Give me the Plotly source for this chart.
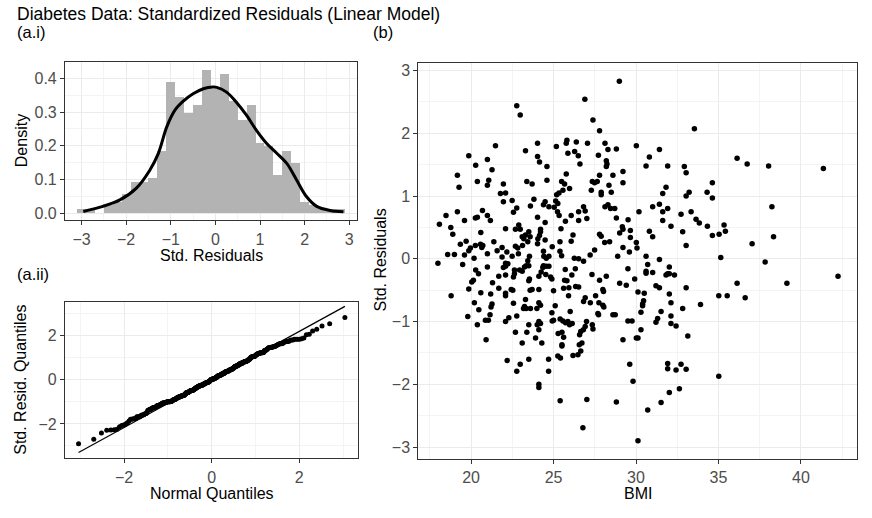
import statistics
import plotly.graph_objects as go

# Panel (a.i): histogram of standardized residuals (density scale)
hist_bins = [-3.0, -2.8, -2.6, -2.4, -2.2, -2.0, -1.8, -1.6, -1.4, -1.2,
             -1.0, -0.8, -0.6, -0.4, -0.2, 0.0, 0.2, 0.4, 0.6, 0.8,
             1.0, 1.2, 1.4, 1.6, 1.8, 2.0, 2.2, 2.4, 2.6, 2.8]
hist_density = [0.011, 0.011, 0.0, 0.023, 0.034, 0.057, 0.091, 0.091, 0.103, 0.183,
                0.389, 0.343, 0.297, 0.320, 0.423, 0.366, 0.411, 0.331, 0.274, 0.320,
                0.206, 0.200, 0.114, 0.183, 0.149, 0.034, 0.023, 0.011, 0.011, 0.011]

# kernel density curve
kde_x = [-2.96, -2.52, -2.14, -1.77, -1.47, -1.28, -1.09, -0.91, -0.72, -0.50,
         -0.27, -0.05, 0.03, 0.25, 0.47, 0.70, 0.92, 1.15, 1.37, 1.60,
         1.82, 2.04, 2.27, 2.57, 2.87]
kde_y = [0.006, 0.021, 0.040, 0.075, 0.128, 0.177, 0.256, 0.305, 0.332, 0.354,
         0.369, 0.374, 0.373, 0.359, 0.329, 0.290, 0.246, 0.207, 0.179, 0.148,
         0.099, 0.050, 0.021, 0.009, 0.005]

# Panel (b): BMI against standardized residuals
bmi = [
    28.99, 22.77, 22.98, 26.90, 27.39, 27.79, 21.48, 19.86, 20.99, 20.28, 21.27, 19.17, 19.27, 20.38,
    21.07, 20.99, 18.08, 18.48, 18.77, 18.89, 19.17, 19.60, 18.58, 18.99, 17.99, 19.35, 19.70, 19.60,
    19.96, 19.86, 20.26, 20.26, 20.38, 20.69, 20.99, 21.17, 20.59, 20.57, 20.71, 20.65, 20.18, 20.99,
    21.38, 21.58, 21.78, 22.09, 21.96, 21.96, 22.49, 22.57, 22.77, 22.09, 21.88, 22.17, 21.88, 22.49,
    22.69, 22.83, 22.09, 22.69, 22.89, 22.98, 23.10, 23.20, 23.30, 22.87, 23.12, 23.30, 23.38, 23.70,
    23.81, 23.60, 23.50, 23.58, 23.44, 23.54, 23.44, 24.03, 24.03, 24.15, 24.60, 24.60, 24.03, 24.49,
    24.39, 24.72, 24.15, 24.05, 24.21, 24.49, 24.49, 24.21, 24.39, 24.41, 24.56, 24.72, 24.92, 25.17,
    25.81, 25.77, 26.38, 25.87, 26.28, 26.50, 26.60, 25.77, 25.49, 25.67, 25.97, 25.19, 25.33, 25.57,
    25.13, 25.26, 25.04, 25.24, 25.34, 25.45, 25.72, 25.39, 25.39, 25.49, 26.07, 26.18, 26.07, 26.26,
    26.52, 26.52, 26.52, 26.82, 26.82, 26.92, 27.02, 27.06, 27.22, 27.72, 27.79, 27.35, 27.49, 27.65,
    27.29, 27.89, 27.89, 28.12, 28.30, 28.81, 28.20, 28.24, 28.20, 28.60, 28.36, 28.50, 28.12, 28.30,
    28.46, 28.71, 28.81, 27.79, 27.89, 28.10, 28.40, 28.89, 29.21, 29.21, 29.52, 29.17, 29.21, 29.01,
    29.66, 29.66, 29.21, 29.60, 30.02, 30.02, 30.06, 30.18, 27.49, 24.03,
    33.54, 30.61, 30.81, 31.42, 31.92, 32.93, 33.04, 36.13, 36.74, 38.04, 41.36, 34.63, 34.31, 34.63,
    31.82, 31.62, 33.04, 33.22, 31.01, 31.42, 31.62, 31.92, 31.62, 32.12, 30.81, 31.01, 32.73, 33.34,
    33.64, 33.84, 32.83, 33.04, 34.33, 34.63, 35.04, 35.34, 35.42, 35.14, 37.04, 38.24, 38.34, 37.83,
    30.61, 31.42,
    19.49, 20.99, 20.28, 20.45, 20.14, 20.04, 19.86, 18.79, 20.59, 21.19, 21.30, 21.68, 21.68, 22.09,
    22.09, 21.96, 22.23, 22.09, 22.09, 22.43, 22.53, 22.57, 22.63, 22.63, 22.94, 23.10, 23.24, 23.34,
    23.50, 23.54, 23.50, 23.58, 23.70, 24.11, 24.11, 24.25, 24.35, 24.39, 24.56, 24.72, 24.53, 24.82,
    24.90, 25.00, 25.71, 25.67, 25.81, 25.61, 25.93, 25.91, 26.11, 26.32, 26.34, 26.52, 27.33, 27.79,
    28.20, 27.99, 28.03, 29.51, 29.92, 29.01, 29.41, 30.12, 20.20, 20.47, 19.80, 20.38, 20.91, 20.87,
    21.05, 21.15, 21.21, 21.27, 22.09, 22.29, 22.57, 22.77, 22.69, 23.10, 23.30, 23.24, 23.18, 23.34,
    23.60, 23.50, 23.38, 23.91, 23.99, 24.11, 24.21, 24.01, 24.11, 24.11, 24.21, 24.29, 24.90, 24.92,
    25.00, 25.10, 25.28, 25.40, 25.57, 25.51, 25.61, 25.26, 25.42, 25.51, 25.51, 25.73, 25.87, 25.97,
    26.13, 26.01, 26.18, 26.48, 26.65, 26.56, 26.72, 26.58, 26.65, 26.81, 26.92, 27.00, 26.82, 26.92,
    27.23, 27.35, 27.39, 27.55, 27.69, 27.73, 27.75, 27.99, 28.05, 28.60, 28.74, 29.21, 29.51, 29.76,
    29.62, 29.82, 30.02, 30.12, 22.19, 22.77, 22.98, 23.50, 24.11, 24.11, 24.70, 24.70, 25.40, 27.02,
    28.81, 26.78, 30.12,
    30.71, 30.61, 30.61, 31.01, 32.02, 31.82, 31.92, 32.02, 32.33, 31.21, 31.42, 33.04, 30.50, 32.02,
    30.46, 30.40, 30.40, 30.30, 31.52, 32.12, 32.83, 33.91, 35.02, 35.53, 36.13, 36.62, 39.15, 42.25,
    31.31, 31.21, 32.12, 32.12, 32.43, 30.30, 33.14, 31.92, 31.92, 32.43, 32.73, 33.04, 35.02, 32.02,
    32.63, 31.52, 30.71,
]
std_resid = [
    2.83, 2.44, 2.29, 2.54, 2.21, 2.04, 1.80, 1.64, 1.58, 1.49, 1.42, 1.33, 1.14, 1.23,
    1.25, 1.17, 0.55, 0.69, 0.50, 0.39, 0.75, 0.61, 0.07, 0.07, -0.07, 0.23, 0.28, 0.06,
    0.17, 0.13, 0.21, 0.65, 0.66, 0.77, 0.69, 0.61, 0.42, 0.23, 0.21, 0.18, 0.01, 0.08,
    0.27, 0.13, 1.04, 1.05, 1.19, 0.91, 0.93, 0.74, 0.81, 0.48, 0.18, 0.11, 0.03, 0.04,
    0.20, 0.17, -0.07, 0.47, 0.54, 0.47, 0.35, 0.32, 0.38, 0.08, 0.21, 1.72, 1.23, 1.19,
    0.95, 0.84, 0.43, 0.35, 0.27, 0.04, -0.03, 1.84, 1.63, 1.54, 1.47, 1.25, 0.66, 0.91,
    0.86, 0.83, 0.37, 0.32, 0.43, 0.30, 0.58, 0.47, 0.12, 0.04, 0.01, 0.04, 0.19, 1.79,
    1.89, 1.84, 1.86, 1.68, 1.71, 1.64, 1.51, 1.35, 1.23, 1.19, 1.12, 1.02, 1.05, 1.09,
    0.92, 0.88, 0.82, 0.75, 0.69, 0.48, 0.60, 0.27, 0.12, 0.05, 0.69, 0.38, 0.28, 0.01,
    0.00, 0.75, 0.61, -0.04, 0.83, 0.76, 0.64, 1.84, 0.06, 1.65, 1.33, 1.23, 1.21, 1.23,
    1.09, 1.06, 1.02, 1.84, 1.74, 1.75, 1.56, 1.51, 1.47, 1.33, 1.17, 1.06, 0.83, 0.86,
    0.80, 0.80, 0.65, 0.39, 0.36, 0.26, 0.27, 0.04, 1.39, 1.21, 0.62, 0.51, 0.47, 0.41,
    0.45, 0.34, 0.18, 0.11, 1.80, 0.26, 0.17, 0.75, 0.14, 0.24,
    2.07, 1.48, 1.62, 1.74, 1.48, 1.47, 1.37, 1.60, 1.51, 1.48, 1.44, 1.21, 1.06, 0.97,
    1.14, 1.04, 1.00, 1.06, 0.83, 0.87, 0.75, 0.80, 0.61, 0.52, 0.44, 0.35, 0.71, 0.75,
    0.63, 0.57, 0.43, 0.21, 0.52, 0.37, 0.39, 0.54, 0.44, 0.02, 0.24, 0.83, 0.35, -0.05,
    0.04, -0.01,
    -0.09, -0.13, -0.18, -0.24, -0.34, -0.37, -0.48, -0.59, -0.54, -0.56, -0.38, -0.28, -0.47, -0.26,
    -0.12, -0.14, -0.08, -0.59, -0.55, -0.49, -0.50, -0.29, -0.18, -0.24, -0.18, -0.20, -0.13, -0.11,
    -0.11, -0.32, -0.35, -0.50, -0.49, -0.28, -0.49, -0.21, -0.14, -0.11, -0.12, -0.12, -0.25, -0.29,
    -0.32, -0.51, -0.17, -0.34, -0.35, -0.47, -0.46, -0.59, -0.26, -0.16, -0.44, -0.45, -0.25, -0.34,
    -0.28, -0.49, -0.52, -0.16, -0.32, -0.39, -0.42, -0.53, -0.70, -0.81, -0.92, -1.05, -1.29, -0.98,
    -0.98, -0.89, -0.77, -0.72, -1.00, -0.94, -0.71, -0.91, -1.17, -1.34, -0.65, -0.76, -0.79, -0.79,
    -0.79, -1.05, -1.17, -1.26, -0.79, -0.70, -0.74, -1.05, -1.13, -1.00, -1.03, -1.34, -0.86, -0.99,
    -0.98, -0.75, -1.19, -0.96, -0.99, -1.17, -1.25, -1.55, -1.58, -1.37, -1.39, -1.02, -1.00, -1.05,
    -1.03, -0.84, -1.54, -1.53, -1.47, -1.37, -1.34, -1.21, -1.16, -1.13, -1.08, -1.00, -0.68, -0.62,
    -0.70, -1.05, -1.12, -0.59, -0.87, -0.89, -0.70, -0.74, -0.77, -0.89, -0.89, -1.29, -0.99, -0.99,
    -1.68, -1.95, -1.26, -1.26, -1.62, -1.79, -1.68, -1.60, -2.00, -2.05, -1.60, -1.79, -2.26, -2.24,
    -2.28, -2.69, -2.90,
    -0.09, -0.20, -0.23, -0.22, -0.13, -0.26, -0.24, -0.24, -0.26, -0.43, -0.46, -0.46, -0.55, -0.56,
    -0.67, -0.72, -0.75, -0.85, -0.84, -0.70, -0.79, -0.73, -0.59, -0.59, -0.39, -0.62, -0.39, -0.28,
    -0.95, -1.01, -0.91, -1.03, -1.07, -1.13, -1.23, -1.67, -1.75, -1.77, -1.68, -1.76, -1.87, -2.13,
    -2.07, -2.29, -2.41,
]

# Panel (a.ii): normal QQ of the residuals
n = len(std_resid)
nd = statistics.NormalDist()
sample_q = sorted(std_resid)
theory_q = [nd.inv_cdf((i + 0.5) / n) for i in range(n)]
q1, _, q3 = statistics.quantiles(std_resid, n=4, method="inclusive")
z1, z3 = nd.inv_cdf(0.25), nd.inv_cdf(0.75)
slope = (q3 - q1) / (z3 - z1)
intercept = q1 - slope * z1
line_x = [theory_q[0], theory_q[-1]]
line_y = [intercept + slope * v for v in line_x]

W, H = 872, 518
FONT = "Liberation Sans, Arial, sans-serif"
GRID = "#EBEBEB"
MINOR = "#F4F4F4"


def fx(px):
    return px / W


def fy(py):
    return 1 - py / H


def axis(x0, x1, y0, y1, is_x, rng, tickvals, ticktext, minor_dtick, minor_tick0, anchor):
    d = dict(domain=[fx(x0), fx(x1)] if is_x else [fy(y1), fy(y0)],
             range=rng, tickvals=tickvals, ticktext=ticktext,
             showline=True, mirror=True, linecolor="#333333", linewidth=1.1,
             ticks="outside", ticklen=4, tickwidth=1, tickcolor="#333333",
             showgrid=True, gridcolor=GRID, gridwidth=1.1, zeroline=False,
             minor=dict(dtick=minor_dtick, tick0=minor_tick0, showgrid=True,
                        gridcolor=MINOR, gridwidth=0.6, ticks=""),
             tickfont=dict(family=FONT, size=16, color="#4D4D4D"),
             anchor=anchor)
    return d


fig = go.Figure()

fig.add_trace(go.Bar(x=hist_bins, y=hist_density, width=0.2, marker_color="#B3B3B3",
                     marker_line_width=0, xaxis="x", yaxis="y"))
fig.add_trace(go.Scatter(x=kde_x, y=kde_y, mode="lines", line=dict(color="black", width=3, shape="spline"),
                         xaxis="x", yaxis="y"))

fig.add_trace(go.Scatter(x=line_x, y=line_y, mode="lines", line=dict(color="black", width=1.2),
                         xaxis="x2", yaxis="y2"))
fig.add_trace(go.Scatter(x=theory_q, y=sample_q, mode="markers", marker=dict(color="black", size=5),
                         xaxis="x2", yaxis="y2"))

fig.add_trace(go.Scatter(x=bmi, y=std_resid, mode="markers", marker=dict(color="black", size=5.5),
                         xaxis="x3", yaxis="y3"))

minus = "\u2212"
fig.update_layout(
    width=W, height=H, showlegend=False,
    plot_bgcolor="white", paper_bgcolor="white",
    margin=dict(l=0, r=0, t=0, b=0), bargap=0,
    xaxis=axis(65, 357.3, 61.7, 220.7, True, [-3.37, 3.18], [-3, -2, -1, 0, 1, 2, 3],
               [minus + "3", minus + "2", minus + "1", "0", "1", "2", "3"], 0.5, -3.5, "y"),
    yaxis=axis(65, 357.3, 61.7, 220.7, False, [-0.0206, 0.447], [0, 0.1, 0.2, 0.3, 0.4],
               ["0.0", "0.1", "0.2", "0.3", "0.4"], 0.05, 0.05, "x"),
    xaxis2=axis(65, 358, 302.7, 460, True, [-3.35, 3.34], [-2, 0, 2], [minus + "2", "0", "2"], 1, -3, "y2"),
    yaxis2=axis(65, 358, 302.7, 460, False, [-3.56, 3.53], [-2, 0, 2], [minus + "2", "0", "2"], 1, -3, "x2"),
    xaxis3=axis(418.3, 857, 62.3, 460.7, True, [16.8, 43.4], [20, 25, 30, 35, 40],
                ["20", "25", "30", "35", "40"], 2.5, 17.5, "y3"),
    yaxis3=axis(418.3, 857, 62.3, 460.7, False, [-3.19, 3.12], [-3, -2, -1, 0, 1, 2, 3],
                [minus + "3", minus + "2", minus + "1", "0", "1", "2", "3"], 0.5, -3.5, "x3"),
)

# titles, panel tags and axis titles (pixel positions in the picture)
texts = [
    ("Diabetes Data: Standardized Residuals (Linear Model)", 15, 13.5, "left", 0, 17.5),
    ("(a.i)", 15, 31, "left", 0, 16.5),
    ("(a.ii)", 15, 275, "left", 0, 16.5),
    ("(b)", 371, 31.5, "left", 0, 16.5),
    ("Std. Residuals", 211, 256, "center", 0, 16),
    ("Density", 21, 141, "center", -90, 16),
    ("Normal Quantiles", 211.5, 495, "center", 0, 16),
    ("Std. Resid. Quantiles", 21, 381, "center", -90, 16),
    ("BMI", 638, 495, "center", 0, 16),
    ("Std. Residuals", 380, 261, "center", -90, 16),
]
for text, x, y, anchor, angle, size in texts:
    fig.add_annotation(text=text, x=fx(x), y=fy(y), xref="paper", yref="paper",
                       xanchor=anchor, yanchor="middle", textangle=angle, showarrow=False,
                       font=dict(family=FONT, size=size, color="black"))

# drop the browser's default body margin so the figure fills the window exactly
fig.write_html("out.html", config={"displayModeBar": False},
               post_script="document.body.style.margin='0';")
